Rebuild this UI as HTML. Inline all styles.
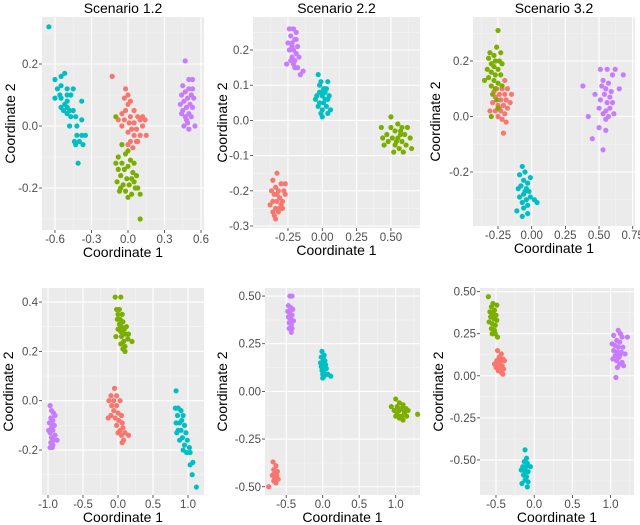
<!DOCTYPE html>
<html><head><meta charset="utf-8">
<style>
body{margin:0;background:#fff;}
svg{display:block;font-family:"Liberation Sans",sans-serif;}
</style></head>
<body>
<svg id="chart" width="640" height="525" viewBox="0 0 640 525"></svg>
<script>
// ---- data ----
const colors = {red:"#F8766D", green:"#7CAE00", teal:"#00BFC4", purple:"#C77CFF"};
const p1Teal = [[-0.65,0.32],[-0.6,0.15],[-0.55,0.16],[-0.52,0.17],[-0.58,0.12],[-0.55,0.13],[-0.5,0.12],[-0.45,0.12],[-0.6,0.09],[-0.55,0.09],[-0.5,0.1],[-0.47,0.1],[-0.52,0.07],[-0.5,0.06],[-0.48,0.05],[-0.53,0.05],[-0.45,0.05],[-0.55,0.06],[-0.5,0.04],[-0.47,0.03],[-0.43,0.03],[-0.38,0.08],[-0.48,0.0],[-0.42,0.0],[-0.38,0.02],[-0.42,-0.03],[-0.38,-0.03],[-0.35,-0.03],[-0.4,-0.05],[-0.44,-0.05],[-0.37,-0.06],[-0.43,-0.06],[-0.41,-0.12],[-0.56,0.1],[-0.5,0.08]];
const p1Red = [[-0.13,0.16],[-0.02,0.12],[0.0,0.1],[-0.03,0.09],[0.02,0.08],[0.0,0.07],[-0.02,0.05],[0.05,0.05],[-0.05,0.04],[0.02,0.03],[0.08,0.03],[0.12,0.03],[-0.08,0.02],[-0.03,0.02],[0.01,0.01],[0.05,0.01],[0.1,0.02],[0.14,0.02],[-0.05,0.0],[0.03,-0.01],[0.07,-0.01],[0.12,0.0],[0.0,-0.02],[0.05,-0.03],[0.1,-0.03],[0.15,-0.03],[0.02,-0.05],[0.07,-0.05],[0.0,-0.06],[0.04,-0.07],[0.08,-0.05]];
const p1Green = [[-0.1,0.03],[-0.05,-0.06],[-0.08,-0.1],[-0.02,-0.09],[0.0,-0.08],[-0.1,-0.12],[-0.05,-0.12],[0.02,-0.11],[0.05,-0.12],[-0.08,-0.14],[-0.03,-0.14],[0.0,-0.13],[0.04,-0.15],[-0.06,-0.16],[-0.01,-0.17],[0.03,-0.17],[0.07,-0.16],[-0.09,-0.18],[-0.04,-0.19],[0.01,-0.19],[0.05,-0.18],[0.08,-0.2],[-0.06,-0.2],[-0.02,-0.21],[0.03,-0.22],[0.0,-0.23],[0.1,-0.22],[-0.07,-0.21],[0.1,-0.3],[0.06,-0.2]];
const p1Purple = [[0.47,0.21],[0.5,0.15],[0.53,0.15],[0.45,0.13],[0.5,0.12],[0.47,0.11],[0.52,0.1],[0.44,0.1],[0.49,0.09],[0.54,0.09],[0.46,0.08],[0.51,0.07],[0.43,0.07],[0.48,0.06],[0.53,0.06],[0.45,0.05],[0.5,0.04],[0.47,0.03],[0.52,0.03],[0.44,0.04],[0.49,0.01],[0.46,0.0],[0.5,-0.01],[0.55,0.0],[0.48,0.02],[0.53,0.12]];

const p2Red = [[-0.33,-0.15],[-0.36,-0.17],[-0.3,-0.18],[-0.27,-0.18],[-0.34,-0.19],[-0.32,-0.2],[-0.28,-0.2],[-0.37,-0.2],[-0.35,-0.21],[-0.31,-0.22],[-0.27,-0.21],[-0.36,-0.23],[-0.33,-0.23],[-0.29,-0.23],[-0.38,-0.24],[-0.34,-0.25],[-0.31,-0.25],[-0.36,-0.26],[-0.32,-0.26],[-0.29,-0.25],[-0.35,-0.27],[-0.34,-0.28],[-0.3,-0.24],[-0.33,-0.21]];
const p2Purple = [[-0.24,0.26],[-0.21,0.26],[-0.19,0.25],[-0.23,0.24],[-0.2,0.23],[-0.22,0.22],[-0.25,0.22],[-0.18,0.21],[-0.21,0.2],[-0.24,0.2],[-0.19,0.19],[-0.22,0.18],[-0.2,0.17],[-0.17,0.18],[-0.23,0.17],[-0.26,0.16],[-0.21,0.16],[-0.18,0.15],[-0.2,0.15],[-0.14,0.14],[-0.16,0.13],[-0.22,0.21],[-0.19,0.23]];
const p2Teal = [[-0.03,0.13],[-0.01,0.11],[0.04,0.11],[-0.02,0.1],[0.01,0.09],[0.03,0.09],[-0.01,0.08],[0.02,0.08],[0.05,0.07],[-0.04,0.07],[0.0,0.07],[0.02,0.06],[-0.05,0.06],[0.04,0.06],[-0.02,0.05],[0.01,0.05],[0.03,0.04],[-0.03,0.04],[0.0,0.03],[0.06,0.03],[0.04,0.02],[-0.01,0.02],[0.0,0.01],[0.02,0.09],[-0.02,0.08]];
const p2Green = [[0.5,0.01],[0.55,-0.01],[0.58,-0.02],[0.43,-0.02],[0.5,-0.02],[0.62,-0.02],[0.53,-0.03],[0.57,-0.04],[0.47,-0.04],[0.6,-0.04],[0.44,-0.05],[0.51,-0.05],[0.55,-0.05],[0.64,-0.05],[0.48,-0.06],[0.58,-0.06],[0.53,-0.07],[0.61,-0.07],[0.45,-0.07],[0.56,-0.08],[0.52,-0.09],[0.59,-0.09],[0.65,-0.08],[0.54,-0.06],[0.57,-0.03]];

const p3Green = [[-0.25,0.31],[-0.26,0.25],[-0.31,0.23],[-0.28,0.22],[-0.23,0.23],[-0.32,0.21],[-0.27,0.2],[-0.24,0.2],[-0.3,0.19],[-0.22,0.19],[-0.28,0.18],[-0.25,0.17],[-0.33,0.17],[-0.3,0.16],[-0.27,0.15],[-0.23,0.15],[-0.32,0.14],[-0.28,0.13],[-0.25,0.12],[-0.35,0.13],[-0.3,0.11],[-0.27,0.1],[-0.22,0.11],[-0.29,0.08],[-0.26,0.06],[-0.3,0.0],[-0.25,0.03]];
const p3Red = [[-0.2,0.13],[-0.26,0.1],[-0.22,0.1],[-0.18,0.1],[-0.28,0.09],[-0.24,0.08],[-0.2,0.08],[-0.15,0.08],[-0.27,0.07],[-0.23,0.06],[-0.19,0.06],[-0.16,0.05],[-0.29,0.05],[-0.25,0.04],[-0.21,0.04],[-0.18,0.03],[-0.31,0.02],[-0.27,0.02],[-0.23,0.02],[-0.2,0.01],[-0.25,0.0],[-0.22,-0.01],[-0.19,-0.02],[-0.21,-0.06],[-0.24,0.03]];
const p3Teal = [[-0.07,-0.18],[-0.05,-0.2],[-0.09,-0.21],[-0.01,-0.22],[-0.06,-0.23],[-0.03,-0.24],[-0.08,-0.25],[-0.04,-0.26],[-0.1,-0.26],[-0.02,-0.27],[-0.06,-0.28],[-0.01,-0.29],[-0.09,-0.29],[-0.04,-0.3],[-0.07,-0.31],[0.02,-0.3],[0.04,-0.31],[-0.03,-0.32],[-0.06,-0.33],[-0.11,-0.34],[-0.03,-0.35],[-0.07,-0.36],[-0.05,-0.27]];
const p3Purple = [[0.51,0.17],[0.56,0.17],[0.62,0.17],[0.6,0.15],[0.68,0.15],[0.53,0.13],[0.57,0.12],[0.38,0.11],[0.52,0.11],[0.55,0.1],[0.59,0.09],[0.65,0.1],[0.47,0.08],[0.54,0.08],[0.58,0.07],[0.51,0.06],[0.56,0.05],[0.6,0.05],[0.5,0.03],[0.55,0.02],[0.58,0.03],[0.53,0.01],[0.42,0.0],[0.57,0.0],[0.61,0.01],[0.55,-0.01],[0.5,-0.04],[0.55,-0.05],[0.45,-0.08],[0.53,-0.12]];

const p4Purple = [[-0.97,-0.02],[-0.95,-0.04],[-0.92,-0.05],[-0.9,-0.06],[-0.96,-0.07],[-0.93,-0.08],[-0.98,-0.09],[-0.91,-0.1],[-0.95,-0.11],[-0.99,-0.12],[-0.93,-0.12],[-0.97,-0.13],[-0.9,-0.14],[-0.95,-0.15],[-0.92,-0.16],[-0.87,-0.16],[-0.96,-0.17],[-0.93,-0.18],[-0.97,-0.19],[-0.94,-0.19],[-0.94,-0.1]];
const p4Green = [[-0.04,0.42],[0.04,0.42],[-0.02,0.37],[0.02,0.37],[0.0,0.35],[0.06,0.35],[0.03,0.33],[-0.01,0.33],[0.07,0.32],[0.02,0.31],[0.05,0.3],[0.09,0.29],[0.0,0.29],[0.04,0.28],[0.08,0.27],[0.11,0.27],[-0.03,0.26],[0.05,0.26],[0.14,0.25],[0.08,0.24],[0.2,0.24],[0.04,0.23],[0.1,0.22],[0.07,0.21],[0.1,0.2],[0.15,0.27],[0.12,0.3]];
const p4Red = [[-0.05,0.05],[-0.1,0.02],[-0.02,0.02],[-0.13,0.0],[-0.06,0.0],[0.03,0.0],[-0.09,-0.02],[-0.02,-0.02],[-0.06,-0.04],[0.0,-0.05],[-0.1,-0.06],[0.05,-0.06],[-0.04,-0.07],[-0.14,-0.07],[0.01,-0.08],[0.06,-0.09],[-0.02,-0.1],[0.07,-0.11],[0.03,-0.12],[0.1,-0.13],[0.05,-0.14],[0.15,-0.14],[0.08,-0.16],[0.06,-0.17],[0.0,-0.13]];
const p4Teal = [[0.83,0.04],[0.82,-0.03],[0.86,-0.03],[0.9,-0.04],[0.85,-0.06],[0.93,-0.06],[0.83,-0.09],[0.88,-0.09],[0.95,-0.1],[0.86,-0.12],[0.9,-0.12],[0.97,-0.13],[0.84,-0.13],[0.92,-0.15],[0.99,-0.16],[0.88,-0.16],[0.95,-0.18],[1.02,-0.19],[0.93,-0.2],[0.98,-0.21],[1.03,-0.21],[1.07,-0.25],[1.03,-0.26],[1.06,-0.3],[1.12,-0.35],[0.91,-0.08]];

const p5Red = [[-0.68,-0.37],[-0.64,-0.39],[-0.67,-0.41],[-0.62,-0.42],[-0.66,-0.43],[-0.63,-0.44],[-0.69,-0.44],[-0.65,-0.45],[-0.61,-0.46],[-0.67,-0.47],[-0.64,-0.48],[-0.74,-0.5],[-0.66,-0.46],[-0.63,-0.42]];
const p5Purple = [[-0.45,0.5],[-0.42,0.5],[-0.47,0.45],[-0.44,0.44],[-0.41,0.43],[-0.48,0.42],[-0.45,0.41],[-0.42,0.4],[-0.47,0.39],[-0.44,0.38],[-0.4,0.37],[-0.46,0.36],[-0.43,0.35],[-0.46,0.33],[-0.42,0.33],[-0.43,0.31],[-0.45,0.4]];
const p5Teal = [[-0.01,0.21],[0.02,0.19],[-0.02,0.18],[0.01,0.17],[0.03,0.16],[-0.03,0.15],[0.0,0.14],[0.04,0.14],[-0.02,0.13],[0.02,0.12],[0.05,0.12],[-0.01,0.11],[0.02,0.1],[0.0,0.09],[0.02,0.08],[0.11,0.08],[0.0,0.07],[0.07,0.09]];
const p5Green = [[1.0,-0.04],[1.05,-0.06],[1.1,-0.07],[0.94,-0.08],[1.02,-0.08],[1.08,-0.09],[1.14,-0.09],[0.98,-0.1],[1.05,-0.1],[1.12,-0.11],[1.17,-0.1],[1.3,-0.12],[1.02,-0.12],[1.08,-0.13],[1.15,-0.13],[1.05,-0.14],[1.1,-0.15],[1.0,-0.13]];

const p6Green = [[-0.6,0.47],[-0.54,0.43],[-0.49,0.42],[-0.56,0.41],[-0.52,0.39],[-0.58,0.38],[-0.54,0.37],[-0.5,0.36],[-0.57,0.35],[-0.53,0.34],[-0.49,0.33],[-0.59,0.32],[-0.55,0.31],[-0.51,0.3],[-0.56,0.28],[-0.52,0.27],[-0.55,0.25],[-0.51,0.25],[-0.48,0.23],[-0.53,0.36]];
const p6Red = [[-0.48,0.15],[-0.43,0.13],[-0.46,0.11],[-0.41,0.1],[-0.49,0.09],[-0.44,0.09],[-0.39,0.09],[-0.52,0.07],[-0.47,0.07],[-0.42,0.06],[-0.5,0.05],[-0.45,0.05],[-0.4,0.04],[-0.47,0.03],[-0.43,0.02],[-0.41,0.01],[-0.45,0.08]];
const p6Teal = [[-0.12,-0.44],[-0.1,-0.49],[-0.13,-0.51],[-0.09,-0.52],[-0.15,-0.54],[-0.11,-0.54],[-0.05,-0.54],[-0.17,-0.56],[-0.12,-0.57],[-0.08,-0.57],[-0.14,-0.59],[-0.1,-0.6],[-0.12,-0.62],[-0.08,-0.63],[-0.16,-0.64],[-0.09,-0.66],[-0.12,-0.55]];
const p6Purple = [[1.1,0.27],[1.13,0.25],[1.04,0.24],[1.15,0.23],[1.22,0.23],[1.08,0.21],[1.12,0.2],[1.02,0.19],[1.06,0.18],[1.1,0.17],[1.16,0.17],[1.04,0.15],[1.09,0.14],[1.14,0.14],[1.19,0.13],[1.06,0.12],[1.11,0.11],[1.03,0.1],[1.08,0.09],[1.15,0.08],[1.12,0.07],[1.09,0.05],[1.17,0.06],[1.07,-0.01],[1.12,0.12]];

const tickX1 = [-0.6,-0.3,0,0.3,0.6], tickX1Lab = ["-0.6","-0.3","0.0","0.3","0.6"];
const tickY1 = [-0.2,0,0.2], tickY1Lab = ["-0.2","0.0","0.2"];
const tickX2 = [-0.25,0,0.25,0.5], tickX2Lab = ["-0.25","0.00","0.25","0.50"];
const tickY2 = [-0.3,-0.2,-0.1,0,0.1,0.2], tickY2Lab = ["-0.3","-0.2","-0.1","0.0","0.1","0.2"];
const tickX3 = [-0.25,0,0.25,0.5,0.75], tickX3Lab = ["-0.25","0.00","0.25","0.50","0.75"];
const tickY3 = [-0.2,0,0.2], tickY3Lab = ["-0.2","0.0","0.2"];
const tickX4 = [-1,-0.5,0,0.5,1], tickX4Lab = ["-1.0","-0.5","0.0","0.5","1.0"];
const tickY4 = [-0.2,0,0.2,0.4], tickY4Lab = ["-0.2","0.0","0.2","0.4"];
const tickX5 = [-0.5,0,0.5,1], tickX5Lab = ["-0.5","0.0","0.5","1.0"];
const tickY5 = [-0.5,-0.25,0,0.25,0.5], tickY5Lab = ["-0.50","-0.25","0.00","0.25","0.50"];
const tickX6 = [-0.5,0,0.5,1], tickX6Lab = ["-0.5","0.0","0.5","1.0"];
const tickY6 = [-0.5,-0.25,0,0.25,0.5], tickY6Lab = ["-0.50","-0.25","0.00","0.25","0.50"];
const titles = ["Scenario 1.2","Scenario 2.2","Scenario 3.2","","",""];

// ---- layout ----
const panels = [
 {l:42,r:204,t:17,b:230,x0:128,xs:121.7,y0:126,ys:310,tx:tickX1,txl:tickX1Lab,ty:tickY1,tyl:tickY1Lab,yt:10,series:[[p1Red,"red"],[p1Green,"green"],[p1Teal,"teal"],[p1Purple,"purple"]]},
 {l:253,r:420,t:17,b:228,x0:322.3,xs:137.3,y0:120.4,ys:352,tx:tickX2,txl:tickX2Lab,ty:tickY2,tyl:tickY2Lab,yt:222,series:[[p2Red,"red"],[p2Green,"green"],[p2Teal,"teal"],[p2Purple,"purple"]]},
 {l:473,r:635,t:17,b:226,x0:531.7,xs:134.7,y0:116.5,ys:277.5,tx:tickX3,txl:tickX3Lab,ty:tickY3,tyl:tickY3Lab,yt:435,series:[[p3Red,"red"],[p3Green,"green"],[p3Teal,"teal"],[p3Purple,"purple"]]},
 {l:42,r:204,t:288,b:495,x0:118,xs:70,y0:400.7,ys:246.7,tx:tickX4,txl:tickX4Lab,ty:tickY4,tyl:tickY4Lab,yt:8,series:[[p4Red,"red"],[p4Green,"green"],[p4Teal,"teal"],[p4Purple,"purple"]]},
 {l:265,r:420,t:288,b:495,x0:322.7,xs:73,y0:391.4,ys:190.7,tx:tickX5,txl:tickX5Lab,ty:tickY5,tyl:tickY5Lab,yt:222,series:[[p5Red,"red"],[p5Green,"green"],[p5Teal,"teal"],[p5Purple,"purple"]]},
 {l:480,r:634,t:288,b:495,x0:534.2,xs:76.4,y0:375.8,ys:168.3,tx:tickX6,txl:tickX6Lab,ty:tickY6,tyl:tickY6Lab,yt:438,series:[[p6Red,"red"],[p6Green,"green"],[p6Teal,"teal"],[p6Purple,"purple"]]}
];
const NS="http://www.w3.org/2000/svg";
const svg=document.getElementById('chart');
function mk(tag,attrs,parent,text){const e=document.createElementNS(NS,tag);for(const k in attrs)e.setAttribute(k,attrs[k]);if(text!==undefined)e.textContent=text;parent.appendChild(e);return e;}

panels.forEach((p,i)=>{
  const sx=v=>p.x0+p.xs*v, sy=v=>p.y0-p.ys*v;
  const g=mk('g',{},svg);
  
  
  const bg=mk('rect',{x:p.l,y:p.t,width:p.r-p.l,height:p.b-p.t,fill:'#EBEBEB'},g);
  
  
  const dx=p.tx[1]-p.tx[0], dy=p.ty[1]-p.ty[0];
  for(let v=p.tx[0]-dx*1.5; v<=p.tx[p.tx.length-1]+dx*1.5; v+=dx){const x=sx(v); if(x>p.l&&x<p.r) mk('line',{x1:x,x2:x,y1:p.t,y2:p.b,stroke:'#F5F5F5','stroke-width':0.6},g);}
  for(let v=p.ty[0]-dy*1.5; v<=p.ty[p.ty.length-1]+dy*1.5; v+=dy){const y=sy(v); if(y>p.t&&y<p.b) mk('line',{x1:p.l,x2:p.r,y1:y,y2:y,stroke:'#F5F5F5','stroke-width':0.6},g);}
  p.tx.forEach((v,k)=>{const x=sx(v);
    if(x>p.l&&x<p.r) mk('line',{x1:x,x2:x,y1:p.t,y2:p.b,stroke:'#fff','stroke-width':1.1},g);
    mk('line',{x1:x,x2:x,y1:p.b,y2:p.b+3,stroke:'#333','stroke-width':0.8},g);
    const t=mk('text',{x:x,y:p.b+13,'font-size':11.5,fill:'#4D4D4D','text-anchor':'middle'},g,p.txl[k]);
    
    
  });
  p.ty.forEach((v,k)=>{const y=sy(v);
    if(y>p.t&&y<p.b) mk('line',{x1:p.l,x2:p.r,y1:y,y2:y,stroke:'#fff','stroke-width':1.1},g);
    mk('line',{x1:p.l-3,x2:p.l,y1:y,y2:y,stroke:'#333','stroke-width':0.8},g);
    const t=mk('text',{x:p.l-4,y:y+4,'font-size':11.5,fill:'#4D4D4D','text-anchor':'end'},g,p.tyl[k]);
    
    
  });
  p.series.forEach(([pts,c])=>{
    const sg=mk('g',{fill:colors[c]},g);
    
    
    pts.forEach(([a,b])=>{const pt=mk('circle',{cx:sx(a),cy:sy(b),r:2.6},sg);
      
      });
  });
  const cx=(p.l+p.r)/2;
  const xt=mk('text',{x:cx,y:p.b+27,'font-size':14,fill:'#000','text-anchor':'middle'},g,'Coordinate 1');
  
  
  const cy=(p.t+p.b)/2;
  const yt=mk('text',{x:p.yt,y:cy,'font-size':14,fill:'#000','text-anchor':'middle','dominant-baseline':'central',transform:`rotate(-90 ${p.yt} ${cy})`},g,'Coordinate 2');
  
  
  if(titles[i]){const tt=mk('text',{x:cx,y:13,'font-size':14,fill:'#000','text-anchor':'middle'},g,titles[i]);
    
    }
});
</script>
</body></html>
